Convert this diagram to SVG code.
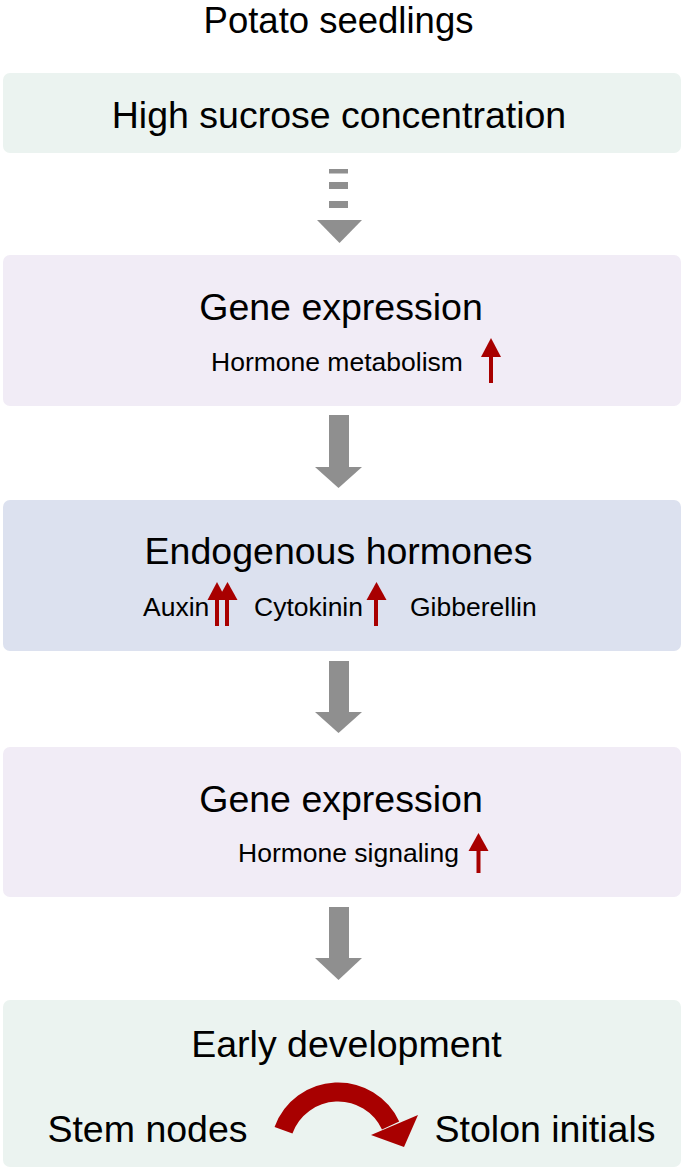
<svg xmlns="http://www.w3.org/2000/svg" width="685" height="1172" viewBox="0 0 685 1172">
<style>
  .big{font-family:"Liberation Sans",Arial,sans-serif;font-size:37.5px;fill:#000;text-anchor:middle}
  .small{font-family:"Liberation Sans",Arial,sans-serif;font-size:26.5px;fill:#000}
  .green{fill:#EBF3F0}
  .lav{fill:#F1ECF6}
  .blue{fill:#DCE1EF}
  .gray{fill:#8F8F8F}
  .red{fill:#A80000}
  .redline{stroke:#A80000;stroke-width:4;fill:none}
</style>
<rect width="685" height="1172" fill="#fff"/>
<text class="big" x="338.5" y="33" style="font-size:36.5px">Potato seedlings</text>

<g id="node-sucrose">
  <rect class="green" x="3" y="73" width="678" height="80" rx="7"/>
  <text class="big" x="339" y="128">High sucrose concentration</text>
</g>
<g id="node-gene-metabolism">
  <rect class="lav" x="3" y="255" width="678" height="151" rx="7"/>
  <text class="big" x="341" y="320">Gene expression</text>
  <text class="small" x="211" y="371">Hormone metabolism</text>
  <line class="redline" x1="491" y1="354" x2="491" y2="383"/>
  <polygon class="red" points="481,357 501,357 491,338"/>
</g>
<g id="node-hormones">
  <rect class="blue" x="3" y="500" width="678" height="151" rx="7"/>
  <text class="big" x="338.5" y="564">Endogenous hormones</text>
  <text class="small" x="143" y="616">Auxin</text>
  <line class="redline" x1="217" y1="596" x2="217" y2="626"/>
  <polygon class="red" points="207.5,600 226.5,600 217,582"/>
  <line class="redline" x1="227" y1="596" x2="227" y2="626"/>
  <polygon class="red" points="217.5,600 237.5,600 227.5,582"/>
  <text class="small" x="254" y="616">Cytokinin</text>
  <line class="redline" x1="376" y1="596" x2="376" y2="626"/>
  <polygon class="red" points="366.5,600 386.5,600 376.5,582"/>
  <text class="small" x="410" y="616">Gibberellin</text>
</g>
<g id="node-gene-signaling">
  <rect class="lav" x="3" y="747" width="678" height="150" rx="7"/>
  <text class="big" x="341" y="812">Gene expression</text>
  <text class="small" x="238" y="862">Hormone signaling</text>
  <line class="redline" x1="478.5" y1="847" x2="478.5" y2="873"/>
  <polygon class="red" points="468.5,851 488.5,851 478.5,833"/>
</g>
<g id="node-early-development">
  <rect class="green" x="3" y="1000" width="678" height="167" rx="7"/>
  <text class="big" x="346.5" y="1057">Early development</text>
  <text class="big" x="147.5" y="1142">Stem nodes</text>
  <text class="big" x="545" y="1142">Stolon initials</text>
  <path d="M 283.5 1130.2 A 58 58 0 0 1 390.6 1125.5" stroke="#A80000" stroke-width="19" fill="none"/>
  <polygon class="red" points="371,1135 418,1115 404,1147"/>
</g>

<g id="connectors">
  <rect class="gray" x="329" y="169" width="19" height="4.5"/>
  <rect class="gray" x="329" y="182" width="19" height="7"/>
  <rect class="gray" x="329" y="201" width="19" height="7"/>
  <polygon class="gray" points="317,220 362,220 339.5,243"/>

  <rect class="gray" x="329" y="415" width="20" height="53"/>
  <polygon class="gray" points="315,467 362,467 338.5,488"/>

  <rect class="gray" x="329" y="661" width="20" height="52"/>
  <polygon class="gray" points="315,712 362,712 338.5,733"/>

  <rect class="gray" x="329" y="907" width="20" height="52"/>
  <polygon class="gray" points="315,958 362,958 338.5,980"/>
</g>
</svg>
